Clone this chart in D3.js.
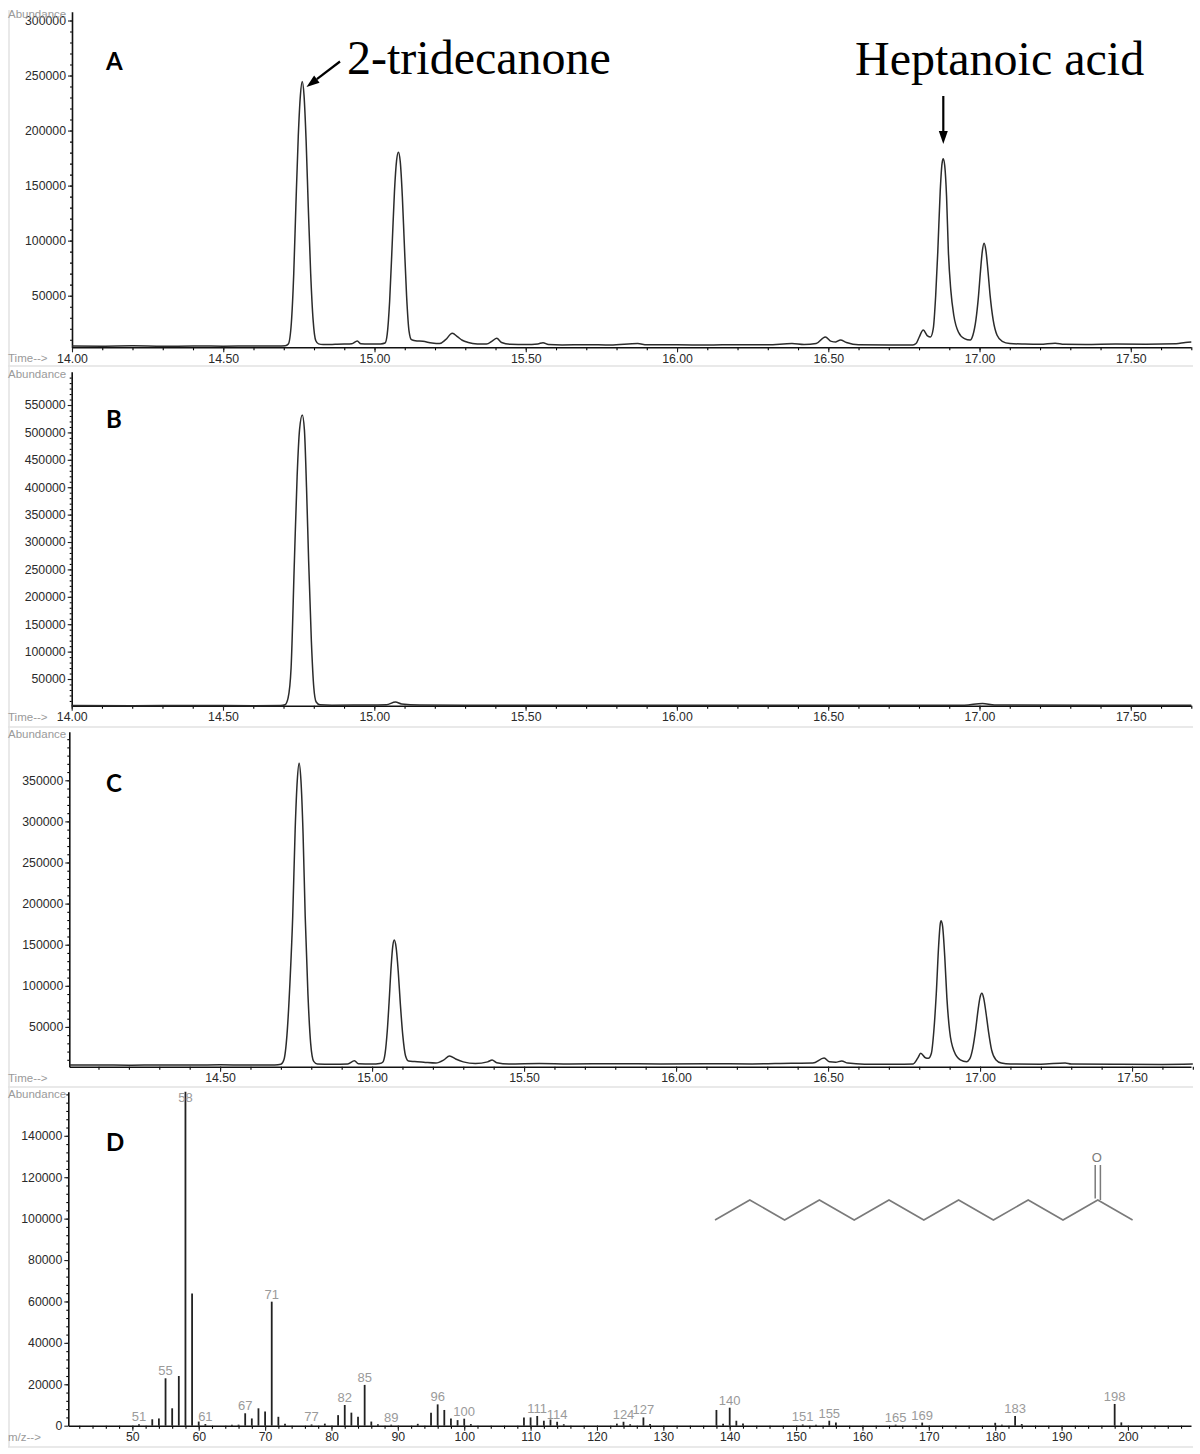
<!DOCTYPE html>
<html>
<head>
<meta charset="utf-8">
<script src="https://cdn.jsdelivr.net/npm/d3@7"></script>
<style>
  body { margin: 0; background: #fff; }
  svg { display: block; }
  .tick text { font-family: Arial, "Liberation Sans", sans-serif; font-size: 12.3px; fill: #2a2a2a; }
</style>
</head>
<body>
<div id="chart"></div>
<script>
'use strict';

// ---- data ----
// retention time (min), abundance
const traceA = [
  [14.00, 4300], [14.10, 4100], [14.20, 4400], [14.30, 4000], [14.40, 4300], [14.50, 4100], [14.60, 4300], [14.68, 4200],
  [14.705, 4400], [14.715, 6000], [14.725, 25000], [14.733, 70000], [14.740, 131000], [14.748, 195000], [14.755, 232000],
  [14.761, 244500], [14.767, 232000], [14.774, 190000], [14.781, 131000], [14.789, 70000], [14.797, 28000], [14.806, 9000],
  [14.815, 6200], [14.83, 5600], [14.87, 5800], [14.90, 6000], [14.925, 6300], [14.943, 8800], [14.955, 6300], [14.98, 6000],
  [15.02, 6200], [15.035, 7000], [15.042, 15000], [15.050, 45000], [15.059, 100600], [15.066, 145000], [15.073, 173000],
  [15.079, 180400], [15.085, 172000], [15.092, 140000], [15.098, 100600], [15.106, 50000], [15.114, 18000], [15.122, 10000],
  [15.135, 9000], [15.16, 8500], [15.19, 7000], [15.215, 6500], [15.235, 10000], [15.257, 15800], [15.275, 12500],
  [15.29, 9500], [15.31, 7500], [15.34, 6200], [15.37, 6000], [15.39, 9000], [15.404, 11300], [15.42, 7500], [15.45, 5800],
  [15.50, 5600], [15.54, 6200], [15.557, 7300], [15.575, 5600], [15.62, 5300], [15.70, 5500], [15.78, 5200], [15.87, 6500],
  [15.90, 5400], [16.00, 5400], [16.10, 5200], [16.20, 5500], [16.30, 5400], [16.38, 6500], [16.42, 5600], [16.46, 6500],
  [16.49, 12500], [16.51, 8500], [16.525, 8000], [16.54, 9700], [16.56, 7500], [16.60, 5400], [16.70, 5300], [16.78, 5300],
  [16.79, 6500], [16.80, 12000], [16.814, 18800], [16.828, 13500], [16.838, 12500], [16.847, 20000], [16.855, 50000],
  [16.862, 90000], [16.870, 145000], [16.876, 170000], [16.880, 174300], [16.885, 168000], [16.891, 140000], [16.897, 90000],
  [16.905, 55000], [16.915, 32000], [16.93, 17000], [16.95, 11000], [16.969, 9700], [16.978, 14000], [16.988, 28000],
  [16.996, 48000], [17.003, 72000], [17.009, 90000], [17.015, 97600], [17.021, 91000], [17.028, 72000], [17.035, 50000],
  [17.045, 28000], [17.058, 14000], [17.075, 8500], [17.10, 6500], [17.15, 6000], [17.20, 5800], [17.25, 6800],
  [17.28, 5800], [17.35, 5700], [17.45, 6000], [17.55, 5900], [17.65, 6300], [17.68, 7500], [17.70, 8000]
];

const traceB = [
  [14.00, 1500], [14.20, 1400], [14.40, 1500], [14.60, 1400], [14.69, 1500], [14.705, 3000], [14.715, 15000],
  [14.725, 70000], [14.736, 266000], [14.745, 420000], [14.753, 505000], [14.762, 531800], [14.769, 505000],
  [14.776, 400000], [14.783, 266000], [14.792, 120000], [14.800, 35000], [14.808, 8000], [14.82, 3000], [14.86, 2200],
  [14.95, 2500], [15.04, 3000], [15.07, 8000], [15.09, 4500], [15.15, 2500], [15.30, 2000], [15.60, 2100], [16.00, 2000],
  [16.40, 2100], [16.80, 2000], [16.95, 2200], [17.01, 5500], [17.05, 2500], [17.40, 2000], [17.70, 2000]
];

const traceC = [
  [14.005, 3600], [14.10, 3700], [14.20, 3500], [14.30, 3800], [14.40, 3600], [14.50, 3900], [14.60, 3600], [14.68, 3800],
  [14.70, 4500], [14.710, 10000], [14.720, 40000], [14.730, 105000], [14.739, 185000], [14.747, 290000], [14.754, 350000],
  [14.760, 370700], [14.766, 350000], [14.773, 285000], [14.780, 185000], [14.789, 90000], [14.798, 30000], [14.808, 8000],
  [14.82, 4800], [14.87, 4500], [14.92, 5000], [14.942, 8900], [14.955, 5200], [15.00, 4800], [15.025, 5500],
  [15.035, 7000], [15.043, 18000], [15.05, 45000], [15.056, 80000], [15.063, 125000], [15.068, 148000], [15.073, 155700],
  [15.079, 147000], [15.086, 118000], [15.093, 78000], [15.101, 40000], [15.110, 15000], [15.12, 8500], [15.14, 7800],
  [15.17, 7000], [15.21, 6000], [15.235, 9500], [15.255, 14600], [15.275, 11000], [15.30, 7500], [15.34, 5500],
  [15.38, 7500], [15.395, 9700], [15.41, 6500], [15.45, 5000], [15.55, 5500], [15.65, 5000], [15.80, 5200], [15.95, 5000],
  [16.10, 5100], [16.25, 5000], [16.38, 5800], [16.45, 6000], [16.487, 12100], [16.505, 7500], [16.525, 7000],
  [16.545, 8500], [16.565, 6000], [16.62, 4700], [16.72, 4600], [16.78, 5000], [16.795, 12000], [16.805, 17900],
  [16.82, 12500], [16.83, 11800], [16.84, 18000], [16.848, 45000], [16.856, 90000], [16.864, 150000], [16.869, 175000],
  [16.872, 179200], [16.877, 172000], [16.884, 135000], [16.891, 85000], [16.90, 45000], [16.915, 20000], [16.935, 10000],
  [16.956, 7700], [16.966, 11000], [16.976, 24000], [16.986, 48000], [16.994, 72000], [17.000, 86000], [17.006, 90900],
  [17.012, 85000], [17.020, 66000], [17.028, 44000], [17.038, 22000], [17.052, 10000], [17.07, 6000], [17.10, 4800],
  [17.20, 4700], [17.28, 6000], [17.30, 4800], [17.45, 4500], [17.60, 4400], [17.70, 4800]
];

// mass spectrum: m/z, abundance
const spectrumMz = [51, 53, 54, 55, 56, 57, 58, 59, 60, 61, 65, 66, 67, 68, 69, 70, 71, 72, 73, 77, 79, 81, 82, 83, 84, 85,
  86, 87, 89, 93, 95, 96, 97, 98, 99, 100, 101, 109, 110, 111, 112, 113, 114, 115, 123, 124, 125, 127, 128, 138, 139, 140,
  141, 142, 151, 153, 155, 156, 165, 169, 180, 181, 183, 184, 198, 199];
const spectrumAbund = [700, 3100, 3500, 22900, 8400, 24000, 161300, 63900, 2000, 800, 500, 500, 6000, 3500, 8400, 6800,
  59900, 4300, 1000, 600, 1000, 5100, 10000, 6300, 4300, 19700, 2000, 700, 500, 900, 6300, 10300, 7600, 3500, 2700, 3400,
  800, 3900, 4000, 4700, 2400, 3000, 1900, 700, 1000, 1900, 700, 4000, 800, 7600, 1000, 8700, 2400, 1100, 600, 500, 2400,
  1500, 500, 1500, 1400, 500, 4700, 800, 10500, 1600];
const labelledMz = [51, 55, 58, 61, 67, 71, 77, 82, 85, 89, 96, 100, 111, 114, 124, 127, 140, 151, 155, 165, 169, 183, 198];

const timeTicks = [14.0, 14.5, 15.0, 15.5, 16.0, 16.5, 17.0, 17.5];
const mzTicks = d3.range(50, 201, 10);

// ---- drawing ----
const W = 1200, H = 1454;
const axisFont = 'Arial, "Liberation Sans", sans-serif';
const svg = d3.select('#chart').append('svg').attr('width', W).attr('height', H);

// faint panel frames
[366, 727, 1087, 1447].forEach(function (y) {
  svg.append('line').attr('x1', 8).attr('x2', 1193).attr('y1', y).attr('y2', y)
    .attr('stroke', '#e2e2e2').attr('stroke-width', 1.5);
});
svg.append('line').attr('x1', 9).attr('x2', 9).attr('y1', 10).attr('y2', 1447)
  .attr('stroke', '#e2e2e2').attr('stroke-width', 1.5);

function drawPanel(p) {
  const x = d3.scaleLinear().domain(p.xDomain).range([p.left, 1191]);
  const y = d3.scaleLinear().domain(p.yDomain).range([p.bottom, p.top]);
  const g = svg.append('g');

  // minor ticks
  g.append('g').attr('transform', 'translate(0,' + p.bottom + ')')
    .call(d3.axisBottom(x).tickValues(p.xMinor).tickSize(3).tickSizeOuter(0).tickFormat(''))
    .call(s => s.select('.domain').remove());
  g.append('g').attr('transform', 'translate(' + p.left + ',0)')
    .call(d3.axisLeft(y).tickValues(p.yMinor).tickSize(2).tickSizeOuter(0).tickFormat(''))
    .call(s => s.select('.domain').remove());

  const xAxis = g.append('g').attr('transform', 'translate(0,' + p.bottom + ')')
    .call(d3.axisBottom(x).tickValues(p.xTicks).tickSize(5).tickPadding(2).tickSizeOuter(0).tickFormat(p.xFormat));
  const yAxis = g.append('g').attr('transform', 'translate(' + p.left + ',0)')
    .call(d3.axisLeft(y).tickValues(p.yTicks).tickSize(4).tickPadding(2).tickSizeOuter(0).tickFormat(d3.format('d')));
  [xAxis, yAxis].forEach(function (a) {
    a.select('.domain').attr('stroke', '#111').attr('stroke-width', 1.6);
    a.selectAll('.tick line').attr('stroke', '#222');
  });
  g.selectAll('.tick line').attr('stroke-width', 1.1);

  g.append('text').attr('x', 8).attr('y', p.top + 6).text('Abundance')
    .style('font-family', axisFont).style('font-size', '11.5px').style('fill', '#9a9a9a');
  g.append('text').attr('x', 8).attr('y', p.bottom + 15).text(p.xLabel)
    .style('font-family', axisFont).style('font-size', '11.5px').style('fill', '#9a9a9a');

  g.append('text').attr('x', 106).attr('y', p.letterY).text(p.letter)
    .style('font-family', 'Lato, "Open Sans", sans-serif').style('font-weight', 'bold')
    .style('font-size', '24px').style('fill', '#000');

  return { g: g, x: x, y: y };
}

function drawTrace(panel, data) {
  const line = d3.line()
    .x(d => panel.x(d[0]))
    .y(d => panel.y(d[1]))
    .curve(d3.curveMonotoneX);
  panel.g.append('path').datum(data)
    .attr('d', line)
    .attr('fill', 'none')
    .attr('stroke', '#2b2b2b')
    .attr('stroke-width', 1.5)
    .attr('stroke-linejoin', 'round');
}

const timeMinor = d3.range(140, 178, 1).map(d => d / 10);
const tFmt = d3.format('.2f');

const panelA = drawPanel({
  letter: 'A', letterY: 70, top: 11.7, bottom: 347.3, left: 72,
  xDomain: [14, 17.699], yDomain: [3100, 308000],
  xTicks: timeTicks, xMinor: timeMinor, xFormat: tFmt, xLabel: 'Time-->',
  yTicks: d3.range(50000, 300001, 50000), yMinor: d3.range(10000, 308000, 10000)
});
drawTrace(panelA, traceA);

const panelB = drawPanel({
  letter: 'B', letterY: 428, top: 371.7, bottom: 705.7, left: 71.7,
  xDomain: [14, 17.699], yDomain: [1300, 610800],
  xTicks: timeTicks, xMinor: timeMinor, xFormat: tFmt, xLabel: 'Time-->',
  yTicks: d3.range(50000, 550001, 50000), yMinor: d3.range(10000, 610000, 10000)
});
drawTrace(panelB, traceB);

const panelC = drawPanel({
  letter: 'C', letterY: 792, top: 731.7, bottom: 1066.7, left: 69.3,
  xDomain: [14.004, 17.694], yDomain: [1600, 409100],
  xTicks: timeTicks.slice(1), xMinor: timeMinor.slice(1), xFormat: tFmt, xLabel: 'Time-->',
  yTicks: d3.range(50000, 350001, 50000), yMinor: d3.range(10000, 409000, 10000)
});
drawTrace(panelC, traceC);

const panelD = drawPanel({
  letter: 'D', letterY: 1151, top: 1091.7, bottom: 1425.7, left: 68.3,
  xDomain: [40.35, 209.5], yDomain: [0, 161300],
  xTicks: mzTicks, xMinor: d3.range(42, 210, 2), xFormat: d3.format('d'), xLabel: 'm/z-->',
  yTicks: d3.range(0, 140001, 20000), yMinor: d3.range(4000, 161000, 4000)
});

const spectrum = spectrumMz.map((mz, i) => ({ mz: mz, v: spectrumAbund[i] }));
panelD.g.append('g').selectAll('line')
  .data(spectrum)
  .enter().append('line')
  .attr('x1', d => panelD.x(d.mz)).attr('x2', d => panelD.x(d.mz))
  .attr('y1', panelD.y(0)).attr('y2', d => panelD.y(d.v))
  .attr('stroke', '#222').attr('stroke-width', 1.8);

panelD.g.append('g').selectAll('text')
  .data(spectrum.filter(d => labelledMz.includes(d.mz)))
  .enter().append('text')
  .attr('x', d => panelD.x(d.mz))
  .attr('y', d => Math.max(panelD.y(d.v) - 3, 1102))
  .attr('text-anchor', 'middle')
  .style('font-family', axisFont).style('font-size', '13px').style('fill', '#9a9a9a')
  .text(d => d.mz);

// compound labels with arrows
function arrow(x1, y1, x2, y2) {
  const ang = Math.atan2(y2 - y1, x2 - x1);
  const len = 13, half = 4.5;
  const bx = x2 - len * Math.cos(ang), by = y2 - len * Math.sin(ang);
  svg.append('line').attr('x1', x1).attr('y1', y1).attr('x2', bx).attr('y2', by)
    .attr('stroke', '#000').attr('stroke-width', 2.2);
  svg.append('path')
    .attr('d', d3.line()([
      [x2, y2],
      [bx + half * Math.sin(ang), by - half * Math.cos(ang)],
      [bx - half * Math.sin(ang), by + half * Math.cos(ang)]
    ]) + 'Z')
    .attr('fill', '#000');
}

svg.append('text').attr('x', 347).attr('y', 74).text('2-tridecanone')
  .style('font-family', '"Liberation Serif", "Times New Roman", serif').style('font-size', '48px').style('fill', '#000');
arrow(340, 61.5, 306.5, 87);

svg.append('text').attr('x', 855).attr('y', 75).text('Heptanoic acid')
  .style('font-family', '"Liberation Serif", "Times New Roman", serif').style('font-size', '48px').style('fill', '#000');
arrow(943.3, 96, 943.3, 144);

// skeletal formula of 2-tridecanone
const chainAtoms = 13, bondDx = 34.8, bondDy = 20;
const startX = 715, baseY = 1220;
const chain = d3.range(chainAtoms).map(i => [startX + i * bondDx, baseY - (i % 2) * bondDy]);
svg.append('path').attr('d', d3.line()(chain))
  .attr('fill', 'none').attr('stroke', '#7a7a7a').attr('stroke-width', 1.6).attr('stroke-linejoin', 'miter');
const carbonyl = chain[11];
[-2.6, 2.6].forEach(function (off) {
  svg.append('line')
    .attr('x1', carbonyl[0] + off).attr('x2', carbonyl[0] + off)
    .attr('y1', carbonyl[1] - (off < 0 ? 1.5 : 0)).attr('y2', carbonyl[1] - 35)
    .attr('stroke', '#7a7a7a').attr('stroke-width', 1.5);
});
svg.append('text').attr('x', carbonyl[0] - 1).attr('y', carbonyl[1] - 38.5).text('O')
  .attr('text-anchor', 'middle')
  .style('font-family', axisFont).style('font-size', '13px').style('fill', '#7a7a7a');
</script>
</body>
</html>
